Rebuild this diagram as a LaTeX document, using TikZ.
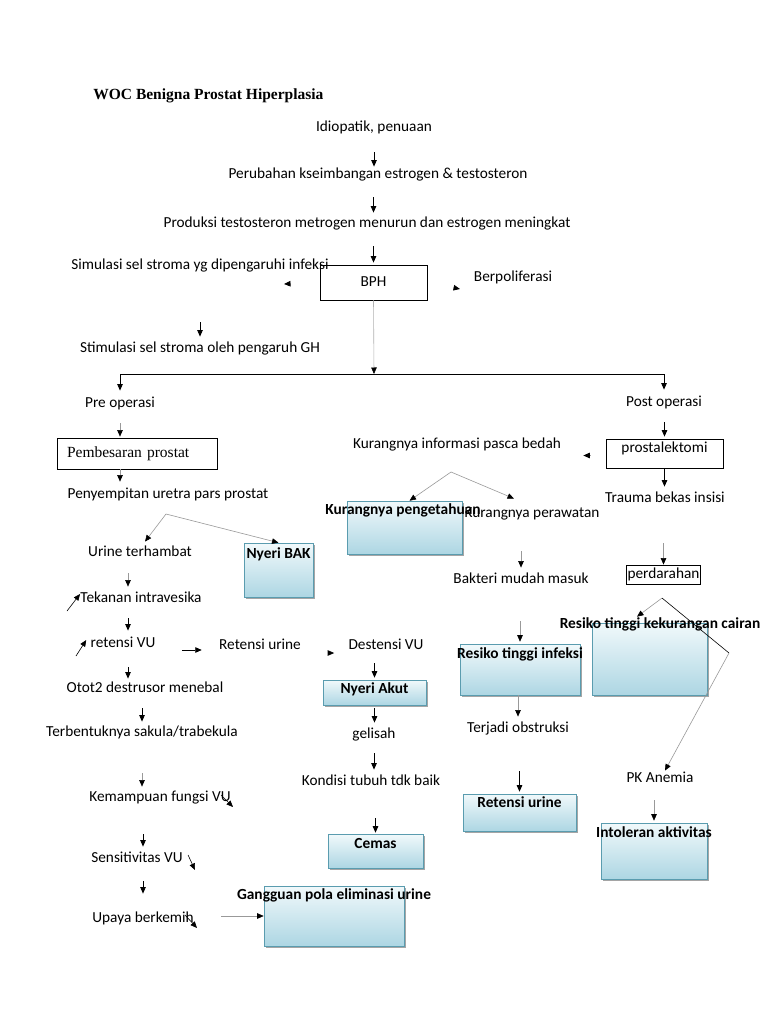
\documentclass[tikz,border=0pt]{standalone}
\usepackage{fontspec}
\setmainfont{Carlito}
\newfontfamily\timesfont{Liberation Serif}
\usepackage{xcolor}
\usetikzlibrary{arrows.meta}
\usetikzlibrary{shadows}
\usetikzlibrary{positioning}

\definecolor{boxtop}{HTML}{F1F9FB}
\definecolor{boxbottom}{HTML}{ADD6E3}
\definecolor{boxline}{HTML}{5A9CAF}

\begin{document}
\begin{tikzpicture}[x=1pt, y=-1pt, line width=0.8pt,
        >={Triangle[length=6.5pt, width=5.5pt, color=black]},
        txt/.style={font=\fontsize{15.3}{18}\selectfont, inner sep=0pt, text height=11pt, text depth=3pt},
        boxtitle/.style={txt, font=\fontsize{15.4}{18}\selectfont\bfseries},
        plainbox/.style={txt, draw, line width=0.8pt, inner sep=2pt},
        bluebox/.style={draw=boxline, line width=0.6pt, top color=boxtop, bottom color=boxbottom,
            drop shadow={shadow xshift=1.6pt, shadow yshift=-1.6pt, fill=black!70}},
        faint/.style={draw=black!40, line width=0.6pt}]
    \useasboundingbox (0,0) rectangle (768,1024);
    \fill[white] (0,0) rectangle (768,1024);

    % boxes
    \node[bluebox, minimum width=69pt, minimum height=54pt] (nyeribak) at (278.5,570) {};
    \node[bluebox, minimum width=115pt, minimum height=53pt] (pengetahuan) at (404.5,527.5) {};
    \node[bluebox, minimum width=115pt, minimum height=72pt] (cairan) at (649.5,659) {};
    \node[bluebox, minimum width=120pt, minimum height=51pt] (infeksi) at (520,669.5) {};
    \node[bluebox, minimum width=103pt, minimum height=25pt] (nyeriakut) at (374.5,692.5) {};
    \node[bluebox, minimum width=113pt, minimum height=37pt] (retensibox) at (519.5,812.5) {};
    \node[bluebox, minimum width=106pt, minimum height=56pt] (intoleran) at (654,851) {};
    \node[bluebox, minimum width=95pt, minimum height=34pt] (cemas) at (375.5,851) {};
    \node[bluebox, minimum width=140pt, minimum height=60pt] (gangguan) at (334,916) {};

    \node[plainbox, minimum width=107pt, minimum height=35pt] (bph) at (373.5,282.5) {BPH};
    \node[plainbox, minimum height=31pt, text width=140pt, align=left, inner xsep=10pt,
        font=\timesfont\fontsize{15.5}{18}\selectfont] (pembesaran) at (137,453.5) {Pembesaran prostat};
    \node[plainbox, minimum width=117pt, minimum height=29pt, text depth=13pt] (prostalektomi) at (664.5,453.5) {prostalektomi};
    \node[plainbox, inner xsep=1pt, minimum height=19pt] (perdarahan) at (663.5,574.5) {perdarahan};

    % texts
    \node[txt, anchor=west, font=\timesfont\bfseries\fontsize{15.5}{18}\selectfont] (title) at (93,96) {WOC Benigna Prostat Hiperplasia};
    \node[txt] (idiopatik) at (374,128) {Idiopatik, penuaan};
    \node[txt] (perubahan) at (378,175) {Perubahan kseimbangan estrogen \& testosteron};
    \node[txt] (produksi) at (367,224) {Produksi testosteron metrogen menurun dan estrogen meningkat};
    \node[txt] (simulasi) at (200,265) {Simulasi sel stroma yg dipengaruhi infeksi};
    \node[txt] (berpoliferasi) at (513,277) {Berpoliferasi};
    \node[txt] (stimulasi) at (200,348) {Stimulasi sel stroma oleh pengaruh GH};
    \node[txt] (preop) at (120,403) {Pre operasi};
    \node[txt] (postop) at (664,402) {Post operasi};
    \node[txt] (info) at (457,444) {Kurangnya informasi pasca bedah};
    \node[txt] (penyempitan) at (168,494) {Penyempitan uretra pars prostat};
    \node[txt] (trauma) at (665,498) {Trauma bekas insisi};
    \node[txt] (perawatan) at (532,513) {Kurangnya perawatan};
    \node[txt] (urine) at (140,552) {Urine terhambat};
    \node[txt] (bakteri) at (521,579) {Bakteri mudah masuk};
    \node[txt] (tekanan) at (141,598) {Tekanan intravesika};
    \node[txt] (retensivu) at (123,643) {retensi VU};
    \node[txt] (retensiurine) at (260,645) {Retensi urine};
    \node[txt] (destensi) at (386,645) {Destensi VU};
    \node[txt] (otot) at (145,688) {Otot2 destrusor menebal};
    \node[txt] (terbentuk) at (142,732) {Terbentuknya sakula/trabekula};
    \node[txt] (gelisah) at (374,734) {gelisah};
    \node[txt] (obstruksi) at (518,728) {Terjadi obstruksi};
    \node[txt] (anemia) at (660,778) {PK Anemia};
    \node[txt] (kondisi) at (371,781) {Kondisi tubuh tdk baik};
    \node[txt] (kemampuan) at (160,797) {Kemampuan fungsi VU};
    \node[txt] (sensitivitas) at (137,858) {Sensitivitas VU};
    \node[txt] (upaya) at (143,918) {Upaya berkemih};

    % box titles
    \node[boxtitle, below=4pt of nyeribak.north] (t_nyeribak) {Nyeri BAK};
    \node[boxtitle, below=2pt of pengetahuan.north, xshift=-1.5pt] (t_pengetahuan) {Kurangnya pengetahuan};
    \node[boxtitle, below=-6pt of cairan.north, xshift=10.5pt] (t_cairan) {Resiko tinggi kekurangan cairan};
    \node[boxtitle, below=3pt of infeksi.north] (t_infeksi) {Resiko tinggi infeksi};
    \node[boxtitle, below=2pt of nyeriakut.north] (t_nyeriakut) {Nyeri Akut};
    \node[boxtitle, below=2pt of retensibox.north] (t_retensi) {Retensi urine};
    \node[boxtitle, below=3pt of intoleran.north] (t_intoleran) {Intoleran aktivitas};
    \node[boxtitle, below=3pt of cemas.north] (t_cemas) {Cemas};
    \node[boxtitle, below=2pt of gangguan.north] (t_gangguan) {Gangguan pola eliminasi urine};

    % top chain
    \draw[->, shorten <=17pt, shorten >=1pt] (idiopatik.south) -- (idiopatik.south |- perubahan.north);
    \draw[->, shorten <=15pt, shorten >=4pt] (perubahan.south -| bph.north) -- (produksi.north -| bph.north);
    \draw[->, shorten <=15pt, shorten >=2pt] (produksi.south -| bph.north) -- (bph.north);
    \coordinate (simtip) at (284,284);
    \coordinate (poltip) at (460,289);
    \draw[->, shorten <=29pt] (bph.west) -- (simtip);
    \draw[->, shorten <=27pt] (bph.east) -- (poltip);
    \draw[->, shorten <=50pt, shorten >=4pt] (stimulasi.north |- simulasi.south) -- (stimulasi.north);

    % split
    \coordinate (split) at (374,374);
    \draw[->, faint, draw=black!30] (bph.south) -- (split);
    \draw (preop.north |- split) -- (postop.north |- split);
    \draw[->, shorten >=5pt] (preop.north |- split) -- (preop.north);
    \draw[->, shorten >=5pt] (postop.north |- split) -- (postop.north);

    % pre operasi
    \draw[->, faint, shorten <=13pt, shorten >=1pt] (preop.south) -- (preop.south |- pembesaran.north);
    \draw[->, faint, shorten >=5pt] (preop.south |- pembesaran.south) -- (preop.south |- penyempitan.north);
    \coordinate (fork1) at (166,514);
    \draw[->, faint] (fork1) -- ([xshift=5pt,yshift=3pt]urine.north);
    \draw[->, faint] (fork1) -- (nyeribak.north);
    \draw[->, faint, shorten <=14pt, shorten >=4pt] ([xshift=-12pt]urine.south) -- ([xshift=-12pt]urine.south |- tekanan.north);
    \coordinate (tekanan_in) at (67,611);
    \draw[->, line width=0.6pt] (tekanan_in) -- ([yshift=4pt]tekanan.west);
    \draw[->, shorten <=13pt, shorten >=5pt] ([xshift=-13pt]tekanan.south) -- ([xshift=-13pt]tekanan.south |- retensivu.north);
    \coordinate (retensivu_in) at (76,656);
    \draw[->, line width=0.6pt] (retensivu_in) -- ([xshift=-4pt,yshift=3pt]retensivu.west);
    \draw[->, shorten <=26pt, shorten >=17pt] ([yshift=-7pt]retensivu.east) -- ([yshift=-7pt]retensivu.east -| retensiurine.west);
    \draw[->, shorten <=27pt, shorten >=14pt] ([yshift=-8pt]retensiurine.east) -- ([yshift=-8pt]retensiurine.east -| destensi.west);
    \draw[->, shorten <=17pt, shorten >=2pt] ([xshift=5pt]retensivu.south) -- ([xshift=5pt]retensivu.south |- otot.north);
    \draw[->, shorten <=13pt, shorten >=3pt] (terbentuk.north |- otot.south) -- (terbentuk.north);
    \draw[->, faint, shorten <=34pt, shorten >=3pt] (terbentuk.south) -- (terbentuk.south |- kemampuan.north);
    \coordinate (kemampuan_out) at (233,807);
    \draw[->, line width=0.6pt] ([xshift=-10pt,yshift=2pt]kemampuan.east) -- (kemampuan_out);
    \draw[->, shorten <=30pt, shorten >=4pt] ([xshift=6pt]sensitivitas.north |- kemampuan.south) -- ([xshift=6pt]sensitivitas.north);
    \coordinate (sensitivitas_out) at (195,870);
    \draw[->, line width=0.6pt] ([xshift=5pt,yshift=3pt]sensitivitas.east) -- (sensitivitas_out);
    \draw[->, shorten <=16pt, shorten >=17pt] (upaya.north |- sensitivitas.south) -- (upaya.north);
    \coordinate (upaya_out) at (197,928);
    \draw[->, line width=0.6pt] ([xshift=-9pt,yshift=3pt]upaya.east) -- (upaya_out);
    \draw[->, faint, shorten <=27pt] ([yshift=2pt]upaya.east) -- ([yshift=2pt]upaya.east -| gangguan.west);

    % middle
    \draw[->, shorten <=11pt, shorten >=2pt] (nyeriakut.north |- destensi.south) -- (nyeriakut.north);
    \draw[->, shorten <=3pt, shorten >=4pt] (nyeriakut.south) -- (nyeriakut.south |- gelisah.north);
    \draw[->, shorten <=12pt, shorten >=4pt] (gelisah.south) -- (gelisah.south |- kondisi.north);
    \draw[->, shorten <=30pt, shorten >=1pt] (cemas.north |- kondisi.south) -- (cemas.north);

    % post operasi
    \draw[->, shorten <=13pt, shorten >=2pt] (prostalektomi.north |- postop.south) -- (prostalektomi.north);
    \draw[->, shorten >=4pt] (prostalektomi.south) -- (prostalektomi.south |- trauma.north);
    \draw[->, shorten <=16pt, shorten >=22pt] ([yshift=-2pt]prostalektomi.west) -- ([yshift=-2pt]prostalektomi.west -| info.east);
    \coordinate (fork2) at (451,472);
    \draw[->, faint] (fork2) -- ([xshift=5pt]pengetahuan.north);
    \draw[->, faint] (fork2) -- ([xshift=-18pt,yshift=7pt]perawatan.north);
    \draw[->, faint, shorten <=31pt, shorten >=4pt] (bakteri.north |- perawatan.south) -- (bakteri.north);
    \draw[->, faint, shorten <=38pt] (perdarahan.north |- trauma.south) -- (perdarahan.north);
    \draw[->, faint, shorten <=35pt, shorten >=2pt] (infeksi.north |- bakteri.south) -- (infeksi.north);
    \coordinate (fork3) at (662,598);
    \coordinate (bend3) at (729,653);
    \draw[->, faint] (fork3) -- ([xshift=-23pt]t_cairan.north);
    \draw[line width=0.6pt] (fork3) -- (bend3);
    \draw[->, faint] (bend3) -- ([xshift=5pt]anemia.north);
    \draw[->, faint, shorten >=4pt] (obstruksi.north |- infeksi.south) -- (obstruksi.north);
    \draw[->, shorten <=36pt, shorten >=2pt] (retensibox.north |- obstruksi.south) -- (retensibox.north);
    \draw[->, faint, shorten <=15pt, shorten >=2pt] (intoleran.north |- anemia.south) -- (intoleran.north);
\end{tikzpicture}
\end{document}
